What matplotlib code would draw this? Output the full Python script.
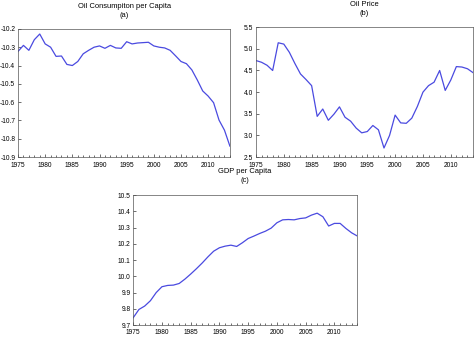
import matplotlib
matplotlib.use('Agg')
from matplotlib import pyplot as plt
from matplotlib.ticker import MultipleLocator

years = list(range(1975, 2015))

oil_consumption = [-10.323, -10.290, -10.317, -10.259, -10.228, -10.282, -10.300, -10.350,
                   -10.348, -10.394, -10.400, -10.378, -10.336, -10.317, -10.300, -10.293,
                   -10.306, -10.290, -10.304, -10.306, -10.270, -10.282, -10.277, -10.275,
                   -10.273, -10.293, -10.300, -10.304, -10.317, -10.347, -10.378, -10.390,
                   -10.424, -10.479, -10.539, -10.567, -10.603, -10.698, -10.753, -10.840]

oil_price = [4.73, 4.69, 4.62, 4.50, 5.14, 5.11, 4.92, 4.66, 4.42, 4.29,
             4.15, 3.44, 3.61, 3.35, 3.49, 3.66, 3.42, 3.33, 3.17, 3.06,
             3.09, 3.23, 3.13, 2.71, 3.00, 3.47, 3.29, 3.28, 3.40, 3.67,
             4.00, 4.15, 4.23, 4.50, 4.04, 4.28, 4.59, 4.58, 4.54, 4.45]

gdp = [9.745, 9.796, 9.817, 9.850, 9.900, 9.936, 9.944, 9.946, 9.956, 9.983,
       10.014, 10.047, 10.082, 10.120, 10.155, 10.176, 10.186, 10.192, 10.184, 10.207,
       10.233, 10.248, 10.264, 10.278, 10.297, 10.330, 10.348, 10.350, 10.348, 10.356,
       10.360, 10.377, 10.389, 10.367, 10.310, 10.326, 10.326, 10.295, 10.268, 10.248]

plt.rcParams['font.family'] = ['Liberation Sans', 'DejaVu Sans']
plt.rcParams['axes.unicode_minus'] = False
line_color = '#4a4ae0'

fig = plt.figure(figsize=(4.74, 3.40), dpi=100)


def style(ax, ylim, ystep, yfmt):
    ax.plot(years, ax.series, color=line_color, lw=0.9)
    ax.set_xlim(1975, 2014)
    ax.set_ylim(*ylim)
    ax.xaxis.set_major_locator(MultipleLocator(5))
    ax.xaxis.set_minor_locator(MultipleLocator(1))
    ax.yaxis.set_major_locator(MultipleLocator(ystep))
    ax.yaxis.set_major_formatter(yfmt)
    ax.tick_params(which='both', direction='in', labelsize=4.8, length=2, width=0.4,
                   top=False, right=False)
    ax.tick_params(axis='x', pad=3.2)
    ax.tick_params(axis='y', pad=2)
    ax.tick_params(which='minor', length=1.2)
    for sp in ax.spines.values():
        sp.set_linewidth(0.5)
        sp.set_color('#555555')


ax_a = fig.add_axes([0.038, 0.538, 0.447, 0.377])
ax_a.series = oil_consumption
style(ax_a, (-10.9, -10.2), 0.1, '{x:.1f}')

ax_b = fig.add_axes([0.540, 0.538, 0.458, 0.382])
ax_b.series = oil_price
style(ax_b, (2.5, 5.5), 0.5, '{x:.1f}')

ax_c = fig.add_axes([0.281, 0.044, 0.473, 0.382])
ax_c.series = gdp
style(ax_c, (9.7, 10.5), 0.1, '{x:.1f}')

title_kw = dict(ha='center', va='center', fontsize=5.4)
fig.text(0.262, 0.982, 'Oil Consumpiton per Capita', **title_kw)
fig.text(0.262, 0.955, '(a)', **title_kw)
fig.text(0.768, 0.988, 'Oil Price', **title_kw)
fig.text(0.768, 0.961, '(b)', **title_kw)
fig.text(0.517, 0.496, 'GDP per Capita', **title_kw)
fig.text(0.517, 0.470, '(c)', **title_kw)

fig.savefig('out.png', dpi=100)
